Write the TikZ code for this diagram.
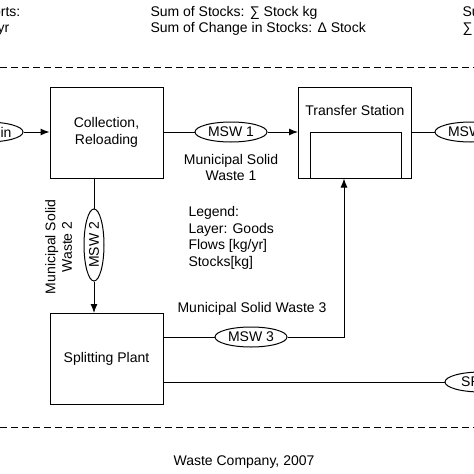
\documentclass[tikz,border=0pt]{standalone}
\usepackage{fontspec}
\setmainfont{Liberation Sans}
\usetikzlibrary{shapes.geometric}
\usetikzlibrary{positioning}
\usetikzlibrary{arrows.meta}

\tikzset{
  process/.style={draw, minimum width=113pt, minimum height=91pt, inner sep=0pt, align=center},
  flow/.style={draw, ellipse, minimum width=72pt, minimum height=20pt, inner sep=0pt},
  flowtext/.style={align=center, inner sep=0pt},
  header/.style={align=left, inner sep=0pt, font=\fontsize{14}{15.7}\selectfont}
}

\begin{document}
\begin{tikzpicture}[x=1pt, y=-1pt, line width=1pt,
  font=\fontsize{14}{16.5}\selectfont,
  >={Latex[length=9pt,width=7pt]}]

\useasboundingbox (0,0) rectangle (474,474);
\clip (0,0) rectangle (474,474);

% Kopfzeile
\node[header, anchor=base west] (imports) at (-79,32) {Sum of Imports:\\∑ Import kg/yr};
\node[header, anchor=base west] (stocks) at (150,32) {Sum of Stocks: ∑ Stock kg\\Sum of Change in Stocks: Δ Stock};
\node[header, anchor=base west] (exports) at (462,32) {Sum of Exports:\\∑ Export kg/yr};

% Systemgrenze
\draw[dash pattern=on 7pt off 4pt] (0,67) -- (474,67);
\draw[dash pattern=on 7pt off 4pt] (0,427) -- (474,427);

% Prozesse
\node[process] (collect) at (106.5,132.5) {Collection,\\Reloading};
\node[process] (transfer) at (355,132.5) {};
\node (transfertxt) at (355,110) {Transfer Station};
\draw (310,178) |- (401,132) -- (401,178); % Lager
\node[process] (split) at (106.5,359) {Splitting Plant};

% Fluesse
\node[flow] (mswin) at (-13,132) {MSW in};
\node[flow] (msw1) at (231,132) {MSW 1};
\node[flow] (msw4) at (471,132) {MSW 4};
\node[flow, rotate=90] (msw2) at (94,245) {MSW 2};
\node[flow] (msw3) at (251,337) {MSW 3};
\node[flow] (srf) at (481,382) {SRF 1};

% Verbindungen
\draw[->] (mswin) -- (mswin -| collect.west);
\draw (collect.east |- msw1) -- (msw1);
\draw[->] (msw1) -- (msw1 -| transfer.west);
\draw (transfer.east |- msw4) -- (msw4);
\draw (collect.south -| msw2) -- (msw2);
\draw[->] (msw2) -- (msw2 |- split.north);
\draw (split.east |- msw3) -- (msw3);
\draw[->] (msw3) -| ([xshift=-11pt]transfer.south);
\draw (split.east |- srf) -- (srf);

% Beschriftungen
\node[flowtext] (msw1txt) at (231,167.5) {Municipal Solid\\Waste 1};
\node[flowtext, rotate=90] (msw2txt) at (58.5,247) {Municipal Solid\\Waste 2};
\node[flowtext] (msw3txt) at (252,309) {Municipal Solid Waste 3};
\node[align=left, anchor=north west, inner sep=0pt] (legend) at (188,206) {Legend:\\Layer: Goods\\Flows [kg/yr]\\Stocks[kg]};

\node (company) at (244,462) {Waste Company, 2007};

\end{tikzpicture}
\end{document}
